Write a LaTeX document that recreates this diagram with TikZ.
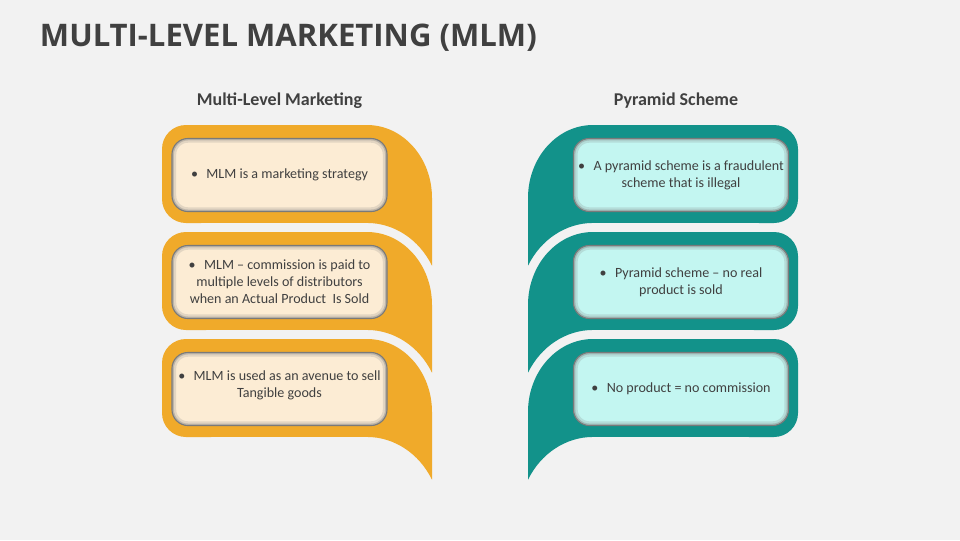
\documentclass[tikz,border=0pt]{standalone}
\usepackage{fontspec}
\setmainfont{Carlito}
\newfontfamily\titlefont{Open Sans}
\usepackage{xcolor}
\usepackage{tikz}
\definecolor{pagebg}{HTML}{F2F2F2}
\definecolor{mlmorange}{HTML}{F0AA2A}
\definecolor{mlmteal}{HTML}{12928A}
\definecolor{mlmcream}{HTML}{FCECD4}
\definecolor{mlmaqua}{HTML}{C3F6F1}
\definecolor{darktext}{HTML}{404040}
\definecolor{boxedge}{HTML}{7A7A7A}

\begin{document}
\begin{tikzpicture}[
  x=0.025cm, y=0.025cm, yscale=-1,
  inbox/.style={rectangle, rounded corners=0.4cm, draw=boxedge, line width=0.8pt,
                minimum width=5.375cm, minimum height=1.825cm, align=center,
                text=darktext, font=\fontsize{10}{12.2}\selectfont,
                path picture={
                  \draw[boxedge, opacity=0.2, line width=6pt, rounded corners=0.4cm]
                    (path picture bounding box.south west) rectangle (path picture bounding box.north east);
                  \draw[boxedge, opacity=0.35, line width=2.8pt, rounded corners=0.4cm]
                    (path picture bounding box.south west) rectangle (path picture bounding box.north east);
                }},
  creambox/.style={inbox, fill=mlmcream},
  aquabox/.style={inbox, fill=mlmaqua},
  head/.style={anchor=base, text=darktext, font=\fontsize{12.8}{15}\selectfont\bfseries},
]
\fill[pagebg] (0,0) rectangle (960,540);

% title
\node[anchor=base west, text=darktext, font=\fontsize{22.1}{26}\titlefont\bfseries]
  (title) at (35,46) {MULTI-LEVEL MARKETING (MLM)};

% leaves, left column
\foreach \t in {125,232,339} {
  \fill[mlmorange] (162,{\t+24}) arc[start angle=180, end angle=270, radius=24]
    -- (367,\t) arc[start angle=270, end angle=360, x radius=65, y radius=73]
    -- (432,{\t+140.7}) arc[start angle=331.4, end angle=270, x radius=74, y radius=82]
    -- (186,{\t+98}) arc[start angle=90, end angle=180, radius=24] -- cycle;
}
% leaves, right column (mirrored)
\begin{scope}[shift={(960,0)}, xscale=-1]
\foreach \t in {125,232,339} {
  \fill[mlmteal] (162,{\t+24}) arc[start angle=180, end angle=270, radius=24]
    -- (367,\t) arc[start angle=270, end angle=360, x radius=65, y radius=73]
    -- (432,{\t+140.7}) arc[start angle=331.4, end angle=270, x radius=74, y radius=82]
    -- (186,{\t+98}) arc[start angle=90, end angle=180, radius=24] -- cycle;
}
\end{scope}

% headings
\node[head] (mlmhead) at (279.5,105.7) {Multi-Level Marketing};
\node[head] (pyrhead) at (676,105.7) {Pyramid Scheme};

% text boxes
\node[creambox] (L1) at (279.5,175) {\textbullet\hspace{0.6em}MLM is a marketing strategy};
\node[creambox] (L2) at (279.5,282) {\textbullet\hspace{0.6em}MLM -- commission is paid to\\multiple levels of distributors\\when an Actual Product\ \ Is Sold};
\node[creambox, text depth=7pt] (L3) at (279.5,389) {\textbullet\hspace{0.6em}MLM is used as an avenue to sell\\Tangible goods};

\node[aquabox] (R1) at (681,175) {\textbullet\hspace{0.6em}A pyramid scheme is a fraudulent\\scheme that is illegal};
\node[aquabox] (R2) at (681,282) {\textbullet\hspace{0.6em}Pyramid scheme -- no real\\product is sold};
\node[aquabox] (R3) at (681,389) {\textbullet\hspace{0.6em}No product = no commission};
\end{tikzpicture}
\end{document}
